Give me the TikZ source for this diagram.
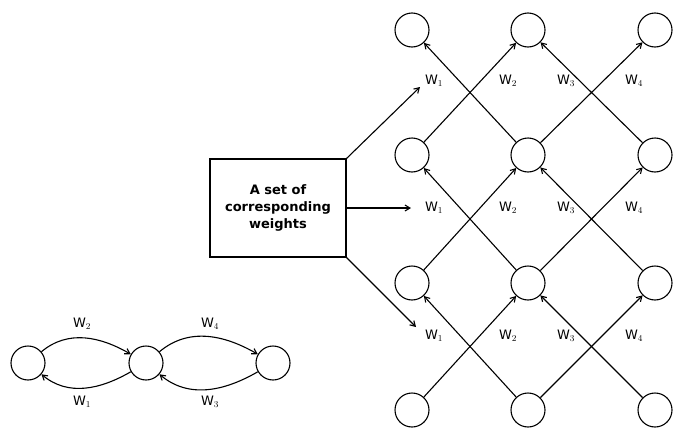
\documentclass[tikz,border=0pt]{standalone}
\usepackage{fontspec}
\setmainfont{DejaVu Sans}
\usetikzlibrary{arrows.meta}
\begin{document}
\begin{tikzpicture}[x=1pt,y=-1pt,
 n/.style={circle,draw,line width=1.1pt,minimum size=34pt,inner sep=0pt},
 e/.style={line width=1.1pt,-{Straight Barb[length=5pt,width=6pt]}},
 lab/.style={font=\fontsize{13}{14}\selectfont}]
\useasboundingbox (0,0) rectangle (686,442);
\foreach \r/\y in {0/30,1/155,2/283,3/410}{
 \node[n] (L\r) at (412,\y) {};
 \node[n] (M\r) at (528,\y) {};
 \node[n] (R\r) at (655,\y) {};}
\foreach \a/\b in {3/2,2/1,1/0}{
 \draw[e] (M\a) -- (L\b);
 \draw[e] (L\a) -- (M\b);
 \draw[e] (R\a) -- (M\b);
 \draw[e] (M\a) -- (R\b);}
\foreach \y in {81,208,336}{
 \node[lab] at (434,\y) {W$_1$};
 \node[lab] at (508,\y) {W$_2$};
 \node[lab] at (566,\y) {W$_3$};
 \node[lab] at (634,\y) {W$_4$};}
\node[draw,line width=1.1pt,minimum width=136pt,minimum height=98pt,align=center,font=\bfseries\fontsize{13}{17}\selectfont] (box) at (278,208) {A set of\\corresponding\\weights};
\coordinate (t1) at (420,87);
\coordinate (t2) at (411,208);
\coordinate (t3) at (416,327);
\draw[e] (box.north east) -- (t1);
\draw[e] (box.east) -- (t2);
\draw[e] (box.south east) -- (t3);
\node[n] (A) at (28,363) {};
\node[n] (B) at (146,363) {};
\node[n] (C) at (273,363) {};
\draw[e] (A) to[out=40,in=150] (B);
\draw[e] (B) to[out=-150,in=-40] (A);
\draw[e] (B) to[out=40,in=150] (C);
\draw[e] (C) to[out=-150,in=-40] (B);
\node[lab] at (82,324) {W$_2$};
\node[lab] at (82,402) {W$_1$};
\node[lab] at (210,324) {W$_4$};
\node[lab] at (210,402) {W$_3$};
\end{tikzpicture}
\end{document}
